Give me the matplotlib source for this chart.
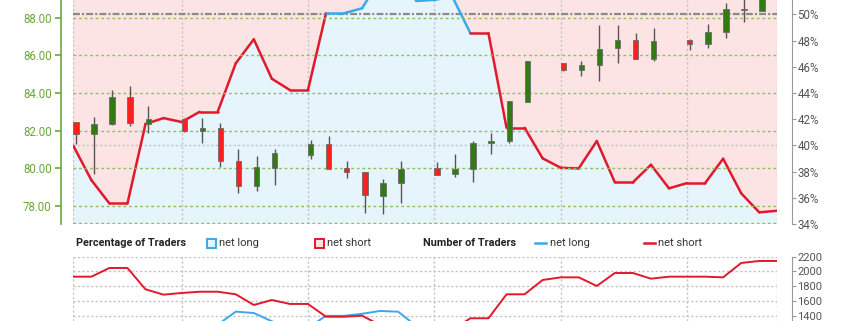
import matplotlib.pyplot as plt
from matplotlib.lines import Line2D
from matplotlib.patches import Rectangle

plt.rcParams['font.family'] = ['Roboto', 'DejaVu Sans']
plt.rcParams['lines.scale_dashes'] = False

# daily candles (day index from the first point, Saturdays missing)
days = [0, 1, 2, 3, 4, 6, 7, 8, 9, 10, 11, 13, 14, 15, 16, 17, 18, 20, 21, 22,
        23, 24, 25, 27, 28, 29, 30, 31, 32, 34, 35, 36, 37, 38]
opens = [82.43, 81.79, 82.34, 83.78, 82.36, 82.59, 81.99, 82.11, 80.39, 79.05,
         80.02, 80.68, 81.26, 80.00, 79.79, 78.54, 79.19, 79.99, 79.67, 79.93,
         81.35, 81.42, 83.51, 85.57, 85.22, 85.50, 86.37, 86.83, 85.80, 86.81,
         86.58, 87.24, 88.48, 88.37]
highs = [82.47, 82.70, 84.15, 84.38, 83.30, 82.64, 82.64, 82.41, 81.01, 80.66,
         81.00, 81.49, 81.72, 80.36, 79.79, 79.42, 80.36, 80.31, 80.75, 81.46,
         81.88, 83.58, 85.70, 85.61, 85.71, 87.59, 87.59, 87.20, 87.43, 86.85,
         87.65, 88.76, 89.20, 89.60]
lows = [81.28, 79.68, 82.32, 82.24, 81.88, 81.92, 81.32, 80.04, 78.66, 78.80,
        79.08, 80.46, 79.95, 79.45, 77.59, 77.57, 78.12, 79.65, 79.54, 79.24,
        80.73, 81.35, 83.51, 85.18, 84.88, 84.63, 85.57, 85.82, 85.71, 86.28,
        86.37, 86.94, 87.79, 88.37]
closes = [81.79, 82.36, 83.78, 82.40, 82.61, 81.97, 82.13, 80.39, 79.05, 80.04,
          80.78, 81.26, 79.95, 79.79, 78.55, 79.19, 79.97, 79.65, 79.93, 81.35,
          81.44, 83.55, 85.70, 85.22, 85.50, 86.35, 86.83, 85.82, 86.76, 86.58,
          87.24, 88.46, 88.41, 89.40]

# sentiment, one point per day
pct_long = [39.97, 37.35, 35.57, 35.57, 41.63, 42.08, 41.78, 42.56, 42.56, 46.26,
            48.09, 45.08, 44.22, 44.22, 50.08, 50.08, 50.46, 52.70, 53.50, 51.02,
            51.10, 51.34, 48.55, 48.55, 41.34, 41.34, 39.01, 38.29, 38.24, 40.33,
            37.18, 37.18, 38.52, 36.72, 37.12, 37.12, 38.98, 36.34, 34.89, 35.01]
short_count = [1929, 1929, 2047, 2047, 1758, 1685, 1708, 1725, 1725, 1690,
               1545, 1613, 1559, 1559, 1386, 1386, 1400, 1271, 1215, 1200,
               1205, 1211, 1365, 1365, 1690, 1690, 1884, 1920, 1920, 1803,
               1979, 1979, 1902, 1929, 1929, 1929, 1920, 2115, 2142, 2142]
long_count = [1284, 1150, 1130, 1130, 1254, 1224, 1226, 1278, 1278, 1455,
              1436, 1324, 1236, 1236, 1398, 1398, 1426, 1464, 1454, 1260,
              1260, 1276, 1288, 1288, 1191, 1191, 1205, 1191, 1189, 1219,
              1171, 1171, 1192, 1119, 1139, 1139, 1227, 1207, 1148, 1154]

price_ticks = [78, 80, 82, 84, 86, 88]
pct_ticks = [34, 36, 38, 40, 42, 44, 46, 48, 50]
count_ticks = [1400, 1600, 1800, 2000, 2200]
week_lines = [0, 6, 13, 20, 27, 34, 39]

RED = '#e0192d'
BLUE = '#3aa8ea'
GREEN_AX = '#6aa83a'
GRID_GRAY = '#c4c4c4'
DOT = (0, (1.6, 1.6))

W, H = 845, 321
fig = plt.figure(figsize=(W / 100, H / 100), dpi=100)


def fx(px):
    return px / W


def fy(py):
    return 1 - py / H


x0, x1 = 73.3, 777.3

# ---- main panel: sentiment area (right axis, %) + candles (left axis) ----
ax = fig.add_axes([fx(x0), fy(224), fx(x1 - x0), 224 / H])
axp = ax.twinx()  # twinx resets ax ticks, so configure both afterwards

ax.set_xlim(0, 39)
ax.set_ylim(34, 51.09)
ax.set_facecolor('#fce4e5')
xs = list(range(len(pct_long)))
ax.fill_between(xs, pct_long, 0, color='#e6f4fc', lw=0, zorder=1)
for d in week_lines:
    ax.axvline(d, color=GRID_GRAY, lw=1, ls=DOT, zorder=2)
ax.axhline(40, color=GRID_GRAY, lw=1, ls=DOT, zorder=2)
ax.axhline(50, color='#8a8a8a', lw=1.6, ls=(0, (5, 1.5, 1.5, 1.5)), zorder=2)
for i in range(len(xs) - 1):
    c = BLUE if pct_long[i] >= 50 else RED
    ax.plot(xs[i:i + 2], pct_long[i:i + 2], color=c, lw=1.8,
            solid_capstyle='round', zorder=3)

ax.yaxis.tick_right()
ax.set_yticks(pct_ticks)
ax.set_yticklabels([f'{t}%' for t in pct_ticks])
ax.set_xticks([])
for side in ['left', 'top', 'bottom']:
    ax.spines[side].set_visible(False)
ax.spines['right'].set_position(('outward', 10.5))
ax.spines['right'].set_color('#999999')
ax.tick_params(axis='y', colors='#999999', labelcolor='#555555', length=3,
               pad=1, labelsize=8.3)

axp.set_xlim(0, 39)
axp.set_ylim(77.03, 88.94)
for t in price_ticks:
    axp.axhline(t, color='#8fbf5a', lw=1, ls=(0, (2, 2)), zorder=0.5)
axp.axhline(77.08, color='#8fbf5a', lw=1, ls=(0, (2, 2)), zorder=0.5)

cx = [d + 0.15 for d in days]
bottoms = [min(o, c) for o, c in zip(opens, closes)]
heights = [max(abs(c - o), 0.05) for o, c in zip(opens, closes)]
colors = ['#2f7d12' if c >= o else '#ff1f1f' for o, c in zip(opens, closes)]
axp.vlines(cx, lows, highs, color='#555555', lw=1, zorder=3)
axp.bar(cx, heights, bottom=bottoms, width=0.3, color=colors,
        edgecolor='#6a6a6a', linewidth=0.6, zorder=4)

axp.yaxis.tick_left()
axp.set_yticks(price_ticks)
axp.set_yticklabels([f'{t:.2f}' for t in price_ticks])
axp.set_xticks([])
for side in ['right', 'top', 'bottom']:
    axp.spines[side].set_visible(False)
axp.spines['left'].set_position(('outward', 9))
axp.spines['left'].set_color(GREEN_AX)
axp.spines['left'].set_linewidth(1.2)
axp.tick_params(axis='y', colors=GREEN_AX, labelcolor=GREEN_AX, length=4,
                width=1.2, pad=2.5, labelsize=8.3)

# ---- number of traders panel ----
axb = fig.add_axes([fx(x0), 0, fx(x1 - x0), fy(256.7)])
axb.set_xlim(0, 39)
axb.set_ylim(1328, 2200)
for t in count_ticks:
    axb.axhline(t, color=GRID_GRAY, lw=1, ls=DOT, zorder=1)
for d in week_lines:
    axb.axvline(d, color=GRID_GRAY, lw=1, ls=DOT, zorder=1)
axb.plot(xs, long_count, color=BLUE, lw=1.4, zorder=2)
axb.plot(xs, short_count, color=RED, lw=1.4, zorder=3)
axb.yaxis.tick_right()
axb.set_yticks(count_ticks)
axb.set_xticks([])
for side in ['left', 'top', 'bottom']:
    axb.spines[side].set_visible(False)
axb.spines['right'].set_position(('outward', 10.5))
axb.spines['right'].set_color('#999999')
axb.tick_params(axis='y', colors='#999999', labelcolor='#555555', length=3,
                pad=1, labelsize=8)

# ---- legend row ----
ly = fy(243)
fig.text(fx(76), ly, 'Percentage of Traders', weight='bold', size=7.8,
         va='center', color='#222222')
fig.add_artist(Rectangle((fx(207.5), fy(247.5)), fx(8.5), 8.5 / H,
                         transform=fig.transFigure, facecolor='#e6f4fc',
                         edgecolor=BLUE, lw=1.4))
fig.text(fx(219), ly, 'net long', size=8, va='center', color='#333333')
fig.add_artist(Rectangle((fx(315.5), fy(247.5)), fx(8.5), 8.5 / H,
                         transform=fig.transFigure, facecolor='#fce4e5',
                         edgecolor=RED, lw=1.4))
fig.text(fx(327), ly, 'net short', size=8, va='center', color='#333333')

fig.text(fx(423), ly, 'Number of Traders', weight='bold', size=7.8,
         va='center', color='#222222')
fig.add_artist(Line2D([fx(535), fx(546)], [ly, ly], color=BLUE, lw=1.8,
                      transform=fig.transFigure))
fig.text(fx(550), ly, 'net long', size=8, va='center', color='#333333')
fig.add_artist(Line2D([fx(644), fx(655)], [ly, ly], color=RED, lw=1.8,
                      transform=fig.transFigure))
fig.text(fx(658), ly, 'net short', size=8, va='center', color='#333333')

fig.savefig('out.png', dpi=100)
